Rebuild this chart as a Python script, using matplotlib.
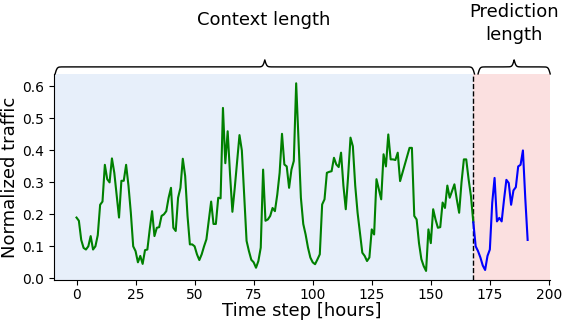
import numpy as np
import matplotlib
matplotlib.use("Agg")
import matplotlib.pyplot as plt
import matplotlib.transforms as mtransforms

# hourly normalized traffic, context window (hours 0..168)
context_traffic = [
    0.19, 0.18, 0.12, 0.095, 0.09, 0.10, 0.132, 0.09, 0.10, 0.135,
    0.23, 0.24, 0.355, 0.31, 0.30, 0.375, 0.33, 0.26, 0.19, 0.305,
    0.305, 0.355, 0.29, 0.205, 0.10, 0.085, 0.05, 0.07, 0.045, 0.088,
    0.09, 0.153, 0.21, 0.132, 0.158, 0.16, 0.195, 0.20, 0.21, 0.252,
    0.283, 0.158, 0.148, 0.252, 0.283, 0.374, 0.32, 0.195, 0.106, 0.106,
    0.10, 0.075, 0.057, 0.075, 0.10, 0.122, 0.18, 0.24, 0.17, 0.17,
    0.252, 0.25, 0.533, 0.36, 0.46, 0.325, 0.208, 0.283, 0.367, 0.448,
    0.40, 0.26, 0.117, 0.085, 0.058, 0.05, 0.033, 0.054, 0.096, 0.34,
    0.18, 0.184, 0.195, 0.22, 0.21, 0.262, 0.33, 0.452, 0.356, 0.35,
    0.283, 0.34, 0.367, 0.61, 0.43, 0.252, 0.17, 0.137, 0.096, 0.065,
    0.05, 0.044, 0.059, 0.075, 0.231, 0.247, 0.33, 0.333, 0.335, 0.377,
    0.356, 0.348, 0.393, 0.29, 0.216, 0.32, 0.44, 0.413, 0.29, 0.205,
    0.143, 0.08, 0.07, 0.054, 0.065, 0.153, 0.137, 0.31, 0.278, 0.247,
    0.388, 0.35, 0.45, 0.372, 0.372, 0.37, 0.393, 0.304, 0.33, 0.356,
    0.382, 0.408, 0.408, 0.195, 0.184, 0.11, 0.06, 0.038, 0.023, 0.153,
    0.11, 0.216, 0.184, 0.158, 0.16, 0.237, 0.22, 0.29, 0.252, 0.273,
    0.294, 0.247, 0.205, 0.30, 0.372, 0.372, 0.31, 0.257, 0.175,
]

# prediction window (hours 168..191)
prediction_traffic = [
    0.175, 0.10, 0.085, 0.065, 0.04, 0.026, 0.07, 0.09, 0.236, 0.314,
    0.178, 0.189, 0.178, 0.246, 0.308, 0.298, 0.23, 0.275, 0.285, 0.35,
    0.355, 0.40, 0.25, 0.12,
]

context_len = len(context_traffic) - 1
t_context = np.arange(len(context_traffic))
t_pred = np.arange(context_len, context_len + len(prediction_traffic))

x_ticks = [0, 25, 50, 75, 100, 125, 150, 175, 200]
y_ticks = [0.0, 0.1, 0.2, 0.3, 0.4, 0.5, 0.6]


def draw_brace(ax, x0, x1, height, beta=2.5):
    # curly brace over the axes, x in data units, y in axes units
    trans = mtransforms.blended_transform_factory(ax.transData, ax.transAxes)
    n = 401
    x = np.linspace(x0, x1, n)
    xh = x[:n // 2 + 1]
    yh = (1 / (1 + np.exp(-beta * (xh - xh[0])))
          + 1 / (1 + np.exp(-beta * (xh - xh[-1]))))
    y = np.concatenate((yh, yh[-2::-1]))
    y = 1.0 + (y - 0.5) * height
    ax.plot(x, y, color="black", lw=1.0, transform=trans, clip_on=False)


fig = plt.figure(figsize=(5.62, 3.2), dpi=100)
ax = fig.add_axes([0.096, 0.124, 0.883, 0.645])

ax.plot(t_context, context_traffic, color="green", lw=1.5, zorder=3)
ax.plot(t_pred, prediction_traffic, color="blue", lw=1.5, zorder=3)

x_lo, x_hi = ax.get_xlim()
ax.axvspan(x_lo, context_len, color="#e7effa", lw=0, zorder=0)
ax.axvspan(context_len, x_hi, color="#fbe0e0", lw=0, zorder=0)
ax.axvline(context_len, color="black", ls="--", lw=1.0, zorder=2)
ax.set_xlim(x_lo, x_hi)

ax.set_xticks(x_ticks)
ax.set_yticks(y_ticks)
ax.tick_params(labelsize=10)
ax.tick_params(axis="x", pad=2)
ax.set_xlabel("Time step [hours]", fontsize=13, labelpad=0)
ax.set_ylabel("Normalized traffic", fontsize=13, labelpad=2)

for side in ["top", "right"]:
    ax.spines[side].set_visible(False)

draw_brace(ax, x_lo + 0.5, context_len + 0.5, 0.068)
draw_brace(ax, context_len + 2, x_hi, 0.068)

trans = mtransforms.blended_transform_factory(ax.transData, ax.transAxes)
ax.text((x_lo + context_len) / 2, 1.26, "Context length", transform=trans,
        ha="center", va="center", fontsize=13)
ax.text((context_len + 2 + x_hi) / 2, 1.245, "Prediction\nlength", transform=trans,
        ha="center", va="center", fontsize=13, linespacing=1.35)

fig.savefig("out.png", dpi=100)
